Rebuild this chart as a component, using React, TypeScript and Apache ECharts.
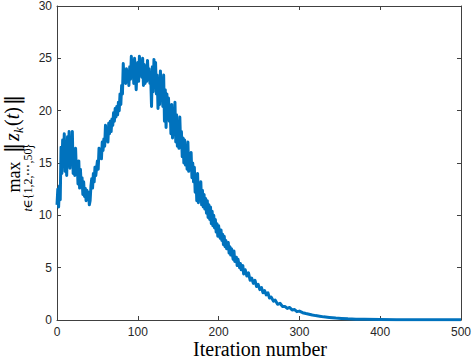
import React, { useEffect, useRef } from "react";
import * as echarts from "echarts";

// Iteration numbers and max_t ||z_k(t)||
const iterations = [
  0, 1, 2, 3, 4, 5, 6, 7, 8, 9, 10, 11, 12, 13, 14, 15, 16, 17, 18, 19,
  20, 21, 22, 23, 24, 25, 26, 27, 28, 29, 30, 31, 32, 33, 34, 35, 36, 37, 38, 39,
  40, 41, 42, 43, 44, 45, 46, 47, 48, 50, 51, 52, 53, 54, 55, 56, 57, 58, 59,
  60, 61, 62, 63, 64, 65, 66, 67, 68, 69, 70, 71, 72, 73, 74, 75, 76, 77, 78, 79,
  80, 81, 82, 83, 84, 85, 86, 87, 88, 89, 90, 91, 92, 93, 94, 95, 96, 97, 98, 99,
  100, 101, 102, 103, 104, 105, 106, 107, 108, 109, 110, 111, 112, 113, 114, 115, 116, 117, 118, 119,
  120, 121, 122, 123, 124, 125, 126, 127, 128, 129, 130, 131, 132, 133, 134, 135, 136, 137, 138, 139,
  140, 141, 142, 143, 144, 145, 146, 147, 148, 149, 150, 151, 152, 153, 154, 155, 156, 157, 158, 159,
  160, 161, 162, 163, 164, 165, 166, 167, 168, 169, 170, 171, 172, 173, 174, 175, 176, 177, 178, 179,
  180, 181, 182, 183, 184, 185, 186, 187, 188, 189, 190, 191, 192, 193, 194, 195, 196, 197, 198, 199,
  200, 202, 203, 204, 205, 206, 207, 208, 209, 210, 212, 213, 214, 215, 216, 218, 219, 220, 222, 223,
  224, 226, 227, 228, 230, 231, 233, 235, 237, 239, 241, 243, 245, 247, 249, 251, 253, 255, 257, 259,
  261, 263, 265, 268, 270, 273, 276, 279, 282, 285, 288, 291, 294, 297, 300, 304, 308, 312, 316, 320,
  325, 330, 337, 345, 352, 360, 370, 380, 400, 420, 450, 480, 500,
];

const maxNorm = [
  11.0, 12.5, 10.8, 12.8, 11.5, 16.5, 14.0, 17.2, 15.0, 17.8, 14.2, 16.8, 13.8, 17.5, 15.5, 18.0, 14.5, 17.0, 15.2, 18.0,
  14.0, 16.0, 13.8, 16.4, 14.2, 15.0, 13.0, 15.2, 12.6, 14.4, 12.8, 13.6, 12.0, 13.2, 11.8, 12.6, 11.4, 12.4, 11.6, 12.2,
  11.0, 11.4, 12.8, 13.5, 12.6, 14.0, 13.2, 14.6, 13.8, 15.2, 14.4, 16.4, 15.6, 16.2, 15.4, 17.0, 16.2, 17.3, 16.6,
  18.6, 17.4, 18.2, 17.0, 18.8, 17.8, 19.0, 18.0, 19.2, 18.6, 19.8, 19.0, 20.2, 19.4, 20.4, 19.6, 20.8, 20.0, 21.6, 20.6,
  22.4, 21.6, 24.5, 22.8, 23.6, 22.6, 24.0, 23.0, 23.6, 22.4, 24.2, 23.0, 25.2, 23.4, 24.8, 22.6, 25.0, 23.6, 22.0, 23.8,
  24.6, 22.8, 25.2, 23.6, 24.6, 23.2, 25.0, 22.4, 24.4, 22.6, 23.8, 22.8, 24.8, 23.2, 24.0, 22.6, 23.2, 20.4, 24.2, 21.8,
  24.9, 22.4, 24.6, 21.6, 23.4, 20.2, 22.6, 20.6, 23.8, 21.2, 22.8, 20.4, 23.4, 19.0, 22.0, 18.4, 21.6, 19.6, 21.2, 19.0,
  20.4, 17.8, 20.6, 17.4, 20.0, 18.2, 20.8, 17.0, 19.6, 16.6, 18.6, 16.4, 19.4, 16.8, 18.0, 15.6, 17.4, 15.0, 17.2, 14.8,
  16.6, 14.4, 17.0, 14.2, 15.6, 14.6, 16.0, 13.6, 15.0, 13.2, 14.6, 12.2, 13.8, 11.4, 14.0, 11.2, 13.0, 11.8, 13.2, 11.0,
  12.4, 10.8, 12.0, 10.6, 11.6, 10.2, 11.4, 9.8, 11.0, 9.6, 10.8, 9.2, 10.4, 9.0, 10.0, 8.8, 9.6, 8.4, 9.2, 8.0,
  9.0, 7.8, 8.6, 7.6, 8.2, 7.2, 8.0, 7.0, 7.6, 6.8, 7.4, 6.4, 7.0, 6.2, 6.8, 5.8, 6.6, 5.6, 6.0, 5.2,
  5.8, 5.0, 5.4, 4.8, 5.2, 4.4, 4.8, 4.2, 4.5, 3.8, 4.0, 3.5, 3.8, 3.2, 3.4, 2.9, 3.1, 2.6, 2.8, 2.4,
  2.6, 2.1, 2.2, 1.8, 1.9, 1.5, 1.6, 1.3, 1.3, 1.1, 1.2, 0.95, 1.0, 0.8, 0.85, 0.7, 0.62, 0.55, 0.48, 0.42,
  0.36, 0.3, 0.24, 0.18, 0.15, 0.11, 0.08, 0.06, 0.04, 0.03, 0.02, 0.02, 0.02,
];

const xTicks = [0, 100, 200, 300, 400, 500];
const yTicks = [0, 5, 10, 15, 20, 25, 30];
const xTitle = "Iteration number";

const AXIS = "#404040";
const LABEL = "#262626";
const SANS = "'Liberation Sans', Arial, Helvetica, sans-serif";
const SERIF = "'Liberation Serif', 'Times New Roman', 'DejaVu Serif', serif";
const BARS = "'DejaVu Serif', serif";

function txt(x: number, y: number, text: string, size: number, family: string, italic = false, align = "left") {
  return {
    type: "text",
    x,
    y,
    style: {
      text,
      fontSize: size,
      fontFamily: family,
      fontStyle: italic ? "italic" : "normal",
      fill: "#000",
      align,
      verticalAlign: "middle",
      textAlign: align,
      textVerticalAlign: "middle",
    },
  };
}

export default function App() {
  const ref = useRef<HTMLDivElement>(null);

  useEffect(() => {
    if (!ref.current) return;
    const chart = echarts.init(ref.current, undefined, { renderer: "svg" });
    const data = iterations.map((it, i) => [it, maxNorm[i]]);

    const axisCommon = {
      type: "value" as const,
      axisLine: { show: true, onZero: false, lineStyle: { color: AXIS, width: 1 } },
      axisTick: { show: true, inside: true, length: 4, lineStyle: { color: AXIS, width: 1 } },
      splitLine: { show: false },
    };

    // y-axis title group (rotated, reading bottom-to-top)
    const yTitle = {
      type: "group",
      x: 0,
      y: 200,
      rotation: Math.PI / 2,
      children: [
        txt(23, 14, "max", 18, SERIF, false, "center"),
        {
          type: "text",
          x: 22,
          y: 28,
          style: {
            text: "{i|t}{n|∈{1,2,⋯,50}}",
            align: "center",
            verticalAlign: "middle",
            textAlign: "center",
            textVerticalAlign: "middle",
            rich: {
              i: { fontSize: 12, fontFamily: SERIF, fontStyle: "italic", fill: "#000" },
              n: { fontSize: 12, fontFamily: SERIF, fill: "#000" },
            },
          },
        },
        txt(47, 12, "‖", 20, BARS),
        txt(59, 12, "z", 20, SERIF, true),
        txt(67, 18, "k", 13, SERIF, true),
        {
          type: "text",
          x: 74,
          y: 12,
          style: {
            text: "{n|(}{i|t}{n|)}",
            align: "left",
            verticalAlign: "middle",
            textAlign: "left",
            textVerticalAlign: "middle",
            rich: {
              i: { fontSize: 20, fontFamily: SERIF, fontStyle: "italic", fill: "#000" },
              n: { fontSize: 20, fontFamily: SERIF, fill: "#000" },
            },
          },
        },
        txt(95, 12, "‖", 20, BARS),
      ],
    };

    chart.setOption({
      animation: false,
      backgroundColor: "#ffffff",
      grid: { left: 57, right: 11, top: 5, bottom: 41, containLabel: false },
      xAxis: [
        {
          ...axisCommon,
          position: "bottom",
          min: xTicks[0],
          max: xTicks[xTicks.length - 1],
          interval: 100,
          axisLabel: {
            show: true,
            color: LABEL,
            fontSize: 12,
            fontFamily: SANS,
            margin: 6,
            hideOverlap: false,
            showMaxLabel: true,
            showMinLabel: true,
          },
        },
        {
          ...axisCommon,
          position: "top",
          min: xTicks[0],
          max: xTicks[xTicks.length - 1],
          interval: 100,
          axisLabel: { show: false },
        },
      ],
      yAxis: [
        {
          ...axisCommon,
          position: "left",
          min: yTicks[0],
          max: yTicks[yTicks.length - 1],
          interval: 5,
          axisLabel: {
            show: true,
            color: LABEL,
            fontSize: 12,
            fontFamily: SANS,
            margin: 5,
            showMaxLabel: true,
            showMinLabel: true,
          },
        },
        {
          ...axisCommon,
          position: "right",
          min: yTicks[0],
          max: yTicks[yTicks.length - 1],
          interval: 5,
          axisLabel: { show: false },
        },
      ],
      series: [
        {
          type: "line",
          data,
          xAxisIndex: 0,
          yAxisIndex: 0,
          showSymbol: false,
          symbol: "none",
          lineStyle: { color: "#0072BD", width: 3, join: "round" },
          z: 5,
        },
      ],
      graphic: [
        {
          type: "text",
          x: 260,
          y: 349,
          style: {
            text: xTitle,
            fontSize: 20,
            fontFamily: SERIF,
            fill: "#000",
            align: "center",
            verticalAlign: "middle",
            textAlign: "center",
            textVerticalAlign: "middle",
          },
        },
        yTitle,
      ],
    });

    return () => {
      chart.dispose();
    };
  }, []);

  return <div ref={ref} style={{ width: 474, height: 361, position: "absolute", left: 0, top: 0 }} />;
}
